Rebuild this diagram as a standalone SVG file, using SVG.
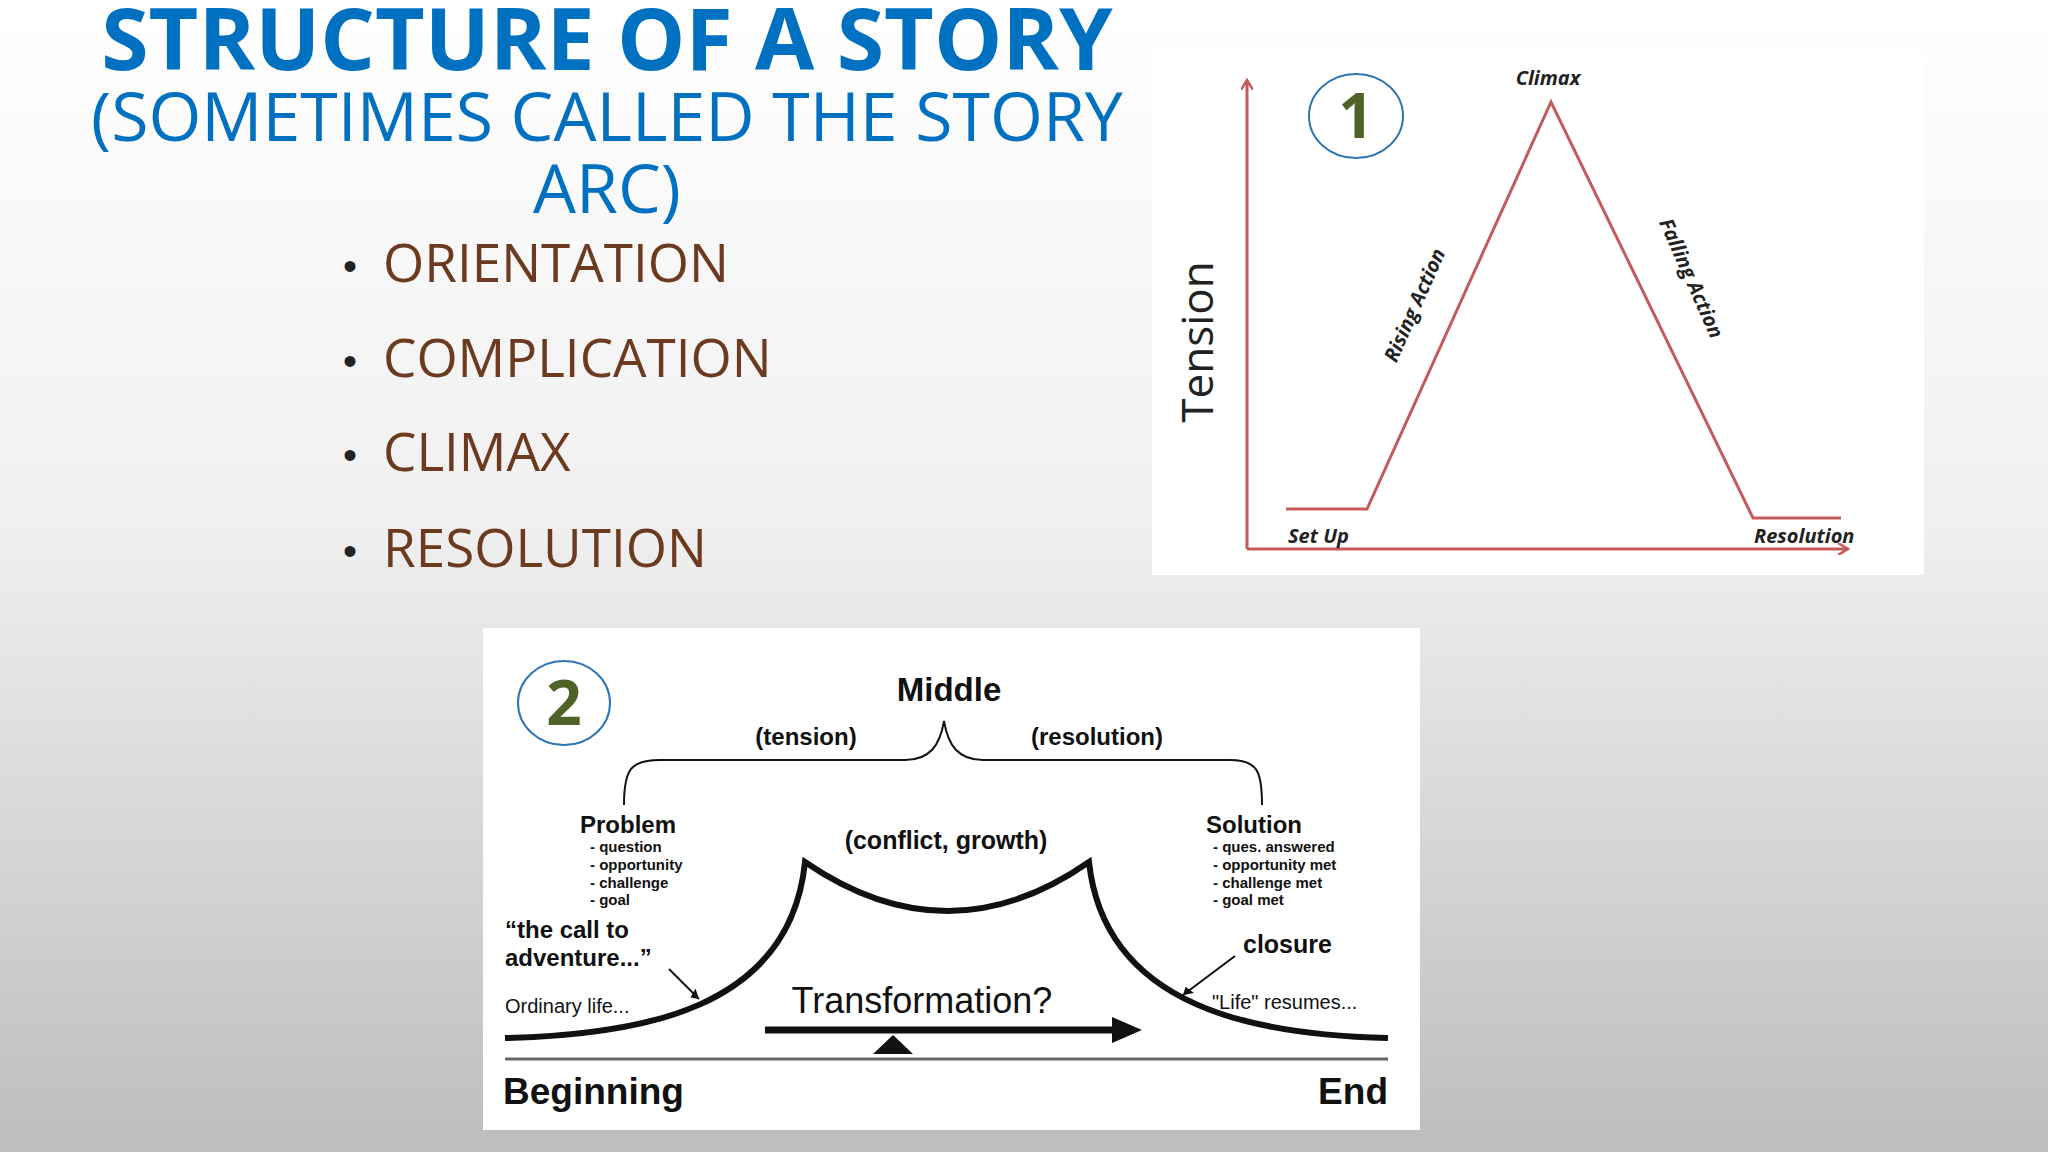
<svg xmlns="http://www.w3.org/2000/svg" width="2048" height="1152" viewBox="0 0 2048 1152">
<defs>
<linearGradient id="bg" x1="0" y1="0" x2="0" y2="1"><stop offset="0" stop-color="#ffffff"/><stop offset="0.45" stop-color="#f0f0f0"/><stop offset="1" stop-color="#bdbdbd"/></linearGradient>
<marker id="ra" markerWidth="12" markerHeight="12" refX="10" refY="6" orient="auto" markerUnits="userSpaceOnUse"><path d="M0,0 L10,6 L0,12" fill="none" stroke="#c55a5a" stroke-width="2.5"/></marker>
<marker id="ka" markerWidth="12" markerHeight="12" refX="10" refY="6" orient="auto" markerUnits="userSpaceOnUse"><path d="M0,1 L10,6 L3,11 Z" fill="#111"/></marker>
<style>
.t{font-family:"Open Sans","Liberation Sans",sans-serif;fill:#0070c0;text-anchor:middle}
.b{font-family:"Open Sans","Liberation Sans",sans-serif;fill:#6b3a1f;font-size:53px}
.dot{font-family:"Liberation Sans",sans-serif;fill:#222;font-size:40px}
.r{stroke:#c55a5a;stroke-width:3;fill:none}
.ri{font-family:"Open Sans","Liberation Sans",sans-serif;font-style:italic;font-weight:bold;font-size:20px;fill:#222}
.k{font-family:"Liberation Sans",Arial,sans-serif;fill:#111}
.kb{font-family:"Liberation Sans",Arial,sans-serif;fill:#111;font-weight:bold}
.num{font-family:"Open Sans","Liberation Sans",sans-serif;font-size:62px;font-weight:bold;fill:#4f6228;text-anchor:middle}
</style>
</defs>
<rect width="2048" height="1152" fill="url(#bg)"/>
<g id="title">
<text class="t" x="607" y="70" font-size="86" font-weight="bold">STRUCTURE OF A STORY</text>
<text class="t" x="607" y="141" font-size="68">(SOMETIMES CALLED THE STORY</text>
<text class="t" x="607" y="213" font-size="68">ARC)</text>
</g>
<g id="bullets">
<text class="dot" x="343" y="280">•</text><text class="b" x="383" y="282">ORIENTATION</text>
<text class="dot" x="343" y="375">•</text><text class="b" x="383" y="377">COMPLICATION</text>
<text class="dot" x="343" y="469">•</text><text class="b" x="383" y="471">CLIMAX</text>
<text class="dot" x="343" y="565">•</text><text class="b" x="383" y="567">RESOLUTION</text>
</g>
<g id="diagram1">
<rect x="1152" y="52" width="772" height="523" fill="#fff"/>
<line class="r" x1="1247" y1="549" x2="1247" y2="80" marker-end="url(#ra)"/>
<line class="r" x1="1247" y1="549" x2="1848" y2="549" marker-end="url(#ra)"/>
<polyline class="r" points="1286,509 1367,509 1551,102 1753,518 1841,518"/>
<text class="ri" x="1548" y="85" text-anchor="middle">Climax</text>
<text class="ri" x="1288" y="543">Set Up</text>
<text class="ri" x="1754" y="543">Resolution</text>
<text class="ri" transform="translate(1421,308) rotate(-66)" text-anchor="middle">Rising Action</text>
<text class="ri" transform="translate(1685,281) rotate(66)" text-anchor="middle">Falling Action</text>
<text transform="translate(1213,342) rotate(-90)" text-anchor="middle" font-family="Open Sans,Liberation Sans,sans-serif" font-size="44" fill="#222">Tension</text>
<ellipse cx="1356" cy="116" rx="47" ry="42" fill="#fff" stroke="#2e75b6" stroke-width="2"/>
<text class="num" x="1356" y="138">1</text>
</g>
<g id="diagram2">
<rect x="483" y="628" width="937" height="502" fill="#fff"/>
<ellipse cx="564" cy="703" rx="46" ry="42" fill="#fff" stroke="#2e75b6" stroke-width="2"/>
<text class="num" x="564" y="725">2</text>
<text class="kb" x="949" y="701" font-size="33" text-anchor="middle">Middle</text>
<text class="kb" x="806" y="745" font-size="24" text-anchor="middle">(tension)</text>
<text class="kb" x="1097" y="745" font-size="24" text-anchor="middle">(resolution)</text>
<path d="M624,805 C624,770 630,760 660,760 L905,760 C930,760 940,745 944,721 C948,745 958,760 983,760 L1230,760 C1258,760 1262,772 1262,805" fill="none" stroke="#111" stroke-width="2"/>
<text class="kb" x="628" y="833" font-size="24" text-anchor="middle">Problem</text>
<text class="kb" font-size="15"><tspan x="590" y="852">- question</tspan><tspan x="590" y="870">- opportunity</tspan><tspan x="590" y="888">- challenge</tspan><tspan x="590" y="905">- goal</tspan></text>
<text class="kb" x="1254" y="833" font-size="24" text-anchor="middle">Solution</text>
<text class="kb" font-size="15"><tspan x="1213" y="852">- ques. answered</tspan><tspan x="1213" y="870">- opportunity met</tspan><tspan x="1213" y="888">- challenge met</tspan><tspan x="1213" y="905">- goal met</tspan></text>
<text class="kb" x="946" y="849" font-size="25" text-anchor="middle">(conflict, growth)</text>
<path d="M505,1038 C640,1035 790,1010 805,862 Q948,960 1089,862 C1105,1010 1260,1035 1388,1038" fill="none" stroke="#111" stroke-width="6" stroke-linejoin="miter"/>
<text class="kb" font-size="24"><tspan x="505" y="938">“the call to</tspan><tspan x="505" y="966">adventure...”</tspan></text>
<line x1="669" y1="969" x2="699" y2="999" stroke="#111" stroke-width="2" marker-end="url(#ka)"/>
<text class="k" x="505" y="1013" font-size="20" fill="#333">Ordinary life...</text>
<text class="kb" x="1243" y="953" font-size="25">closure</text>
<line x1="1235" y1="956" x2="1183" y2="995" stroke="#111" stroke-width="2" marker-end="url(#ka)"/>
<text class="k" x="1212" y="1009" font-size="20" fill="#333">"Life" resumes...</text>
<text class="k" x="922" y="1013" font-size="36" text-anchor="middle">Transformation?</text>
<line x1="765" y1="1030" x2="1118" y2="1030" stroke="#111" stroke-width="7"/>
<polygon points="1112,1017 1142,1030 1112,1043" fill="#111"/>
<polygon points="893,1035 873,1054 913,1054" fill="#111"/>
<line x1="505" y1="1059" x2="1388" y2="1059" stroke="#666" stroke-width="3"/>
<text class="kb" x="503" y="1104" font-size="37">Beginning</text>
<text class="kb" x="1388" y="1104" font-size="37" text-anchor="end">End</text>
</g>
</svg>
